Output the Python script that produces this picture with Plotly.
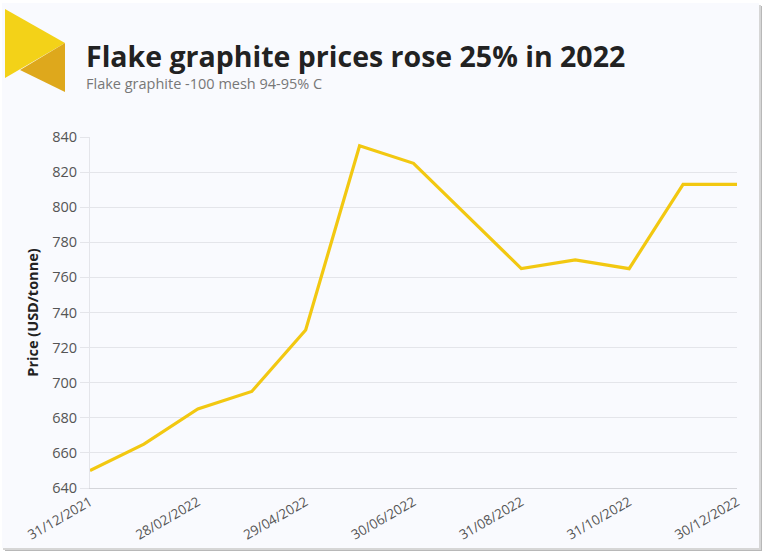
import plotly.graph_objects as go

dates = ["31/12/2021", "31/01/2022", "28/02/2022", "31/03/2022", "29/04/2022",
         "31/05/2022", "30/06/2022", "31/07/2022", "31/08/2022", "30/09/2022",
         "31/10/2022", "30/11/2022", "30/12/2022"]
prices = [650, 665, 685, 695, 730, 835, 825, 795, 765, 770, 765, 813, 813]
tick_labels = dates[::2]
y_ticks = list(range(640, 841, 20))

W, H = 768, 560
L, R, T, B = 90, 31, 137, 72
PW, PH = W - L - R, H - T - B

def px(x):
    return (x - L) / PW

def py(y):
    return (H - B - y) / PH

def path(points):
    return "M " + " L ".join(f"{px(a):.5f},{py(b):.5f}" for a, b in points) + " Z"

FONT = "Open Sans"

fig = go.Figure()
fig.add_trace(go.Scatter(
    x=dates, y=prices, mode="lines",
    line=dict(color="#f2c811", width=3.2),
    hoverinfo="x+y", showlegend=False,
))

shapes = [
    # card shadow
    dict(type="rect", xref="paper", yref="paper", x0=px(5), x1=px(762), y0=py(551), y1=py(6),
         fillcolor="#b8b8b8", line=dict(width=0), layer="below"),
    dict(type="rect", xref="paper", yref="paper", x0=px(3), x1=px(761), y0=py(550), y1=py(5),
         fillcolor="#d6d6d6", line=dict(width=0), layer="below"),
    # card
    dict(type="rect", xref="paper", yref="paper", x0=px(2), x1=px(759), y0=py(548), y1=py(3),
         fillcolor="#f9fafe", line=dict(width=0), layer="below"),
    # logo
    dict(type="path", xref="paper", yref="paper", path=path([(5, 9), (65, 43), (5, 78)]),
         fillcolor="#f3d218", line=dict(width=0), layer="below"),
    dict(type="path", xref="paper", yref="paper", path=path([(65, 43), (65, 92), (20, 70)]),
         fillcolor="#dea81c", line=dict(width=0), layer="below"),
]

annotations = [
    dict(text="<b>Flake graphite prices rose 25% in 2022</b>", xref="paper", yref="paper",
         x=px(84), y=py(56), xanchor="left", yanchor="middle", showarrow=False,
         font=dict(family=FONT, size=28.5, color="#222222")),
    dict(text="Flake graphite -100 mesh 94-95% C", xref="paper", yref="paper",
         x=px(84), y=py(83), xanchor="left", yanchor="middle", showarrow=False,
         font=dict(family=FONT, size=14.5, color="#777777")),
]

fig.update_layout(
    width=W, height=H,
    margin=dict(l=L, r=R, t=T, b=B),
    paper_bgcolor="#ffffff",
    plot_bgcolor="rgba(0,0,0,0)",
    shapes=shapes,
    annotations=annotations,
    font=dict(family=FONT, color="#555555"),
    xaxis=dict(
        type="category", range=[0, len(dates) - 1],
        tickmode="array", tickvals=tick_labels, ticktext=tick_labels,
        tickangle=-30, tickfont=dict(size=13.5, color="#555555"),
        showgrid=False, showline=True, linecolor="#d4d5da", linewidth=1,
        ticks="", zeroline=False,
    ),
    yaxis=dict(
        range=[640, 840], tickvals=y_ticks, tickfont=dict(size=14.5, color="#555555"),
        showgrid=True, gridcolor="#e4e5ea", gridwidth=1,
        ticks="outside", ticklen=9, tickcolor="#e4e5ea", tickwidth=1,
        showline=True, linecolor="#e4e5ea", linewidth=1, zeroline=False,
        title=dict(text="<b>Price (USD/tonne)</b>", font=dict(size=14.5, color="#222222"), standoff=10),
    ),
)

fig.write_html("out.html")
